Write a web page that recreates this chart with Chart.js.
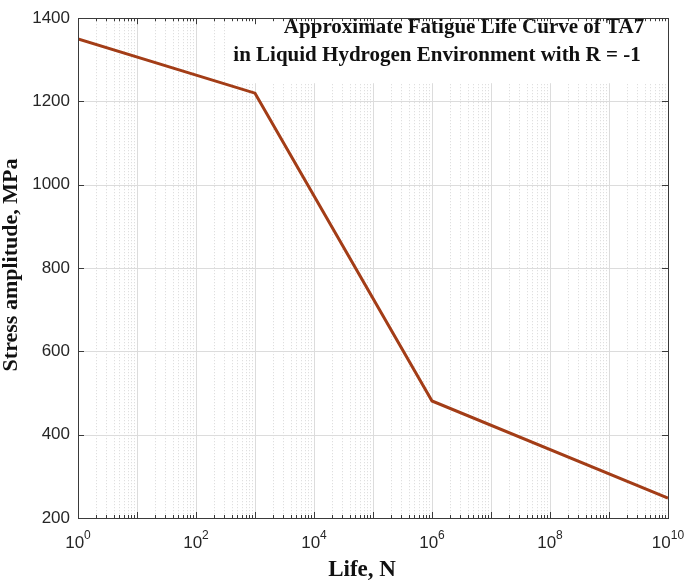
<!DOCTYPE html>
<html>
<head>
<meta charset="utf-8">
<script src="https://cdn.jsdelivr.net/npm/chart.js@4"></script>
<style>
  html, body { margin: 0; padding: 0; background: #fff; }
  #wrap { width: 685px; height: 582px; }
</style>
</head>
<body>
<div id="wrap"><canvas id="c"></canvas></div>
<script>
// S-N curve values
const lifeCycles = [1, 1e3, 1e6, 1e10];
const stressAmp = [1350, 1220, 481, 248];
const yTicks = [200, 400, 600, 800, 1000, 1200, 1400];
const xDecades = [0, 1, 2, 3, 4, 5, 6, 7, 8, 9, 10];
const xLabelExps = [0, 2, 4, 6, 8, 10];
const titleLines = ['Approximate Fatigue Life Curve of TA7', 'in Liquid Hydrogen Environment with R = -1'];
const xTitle = 'Life, N';
const yTitle = 'Stress amplitude, MPa';

const axisColor = '#3a3a3a';
const serifBold = '"Liberation Serif", "Times New Roman", serif';
const sans = '"Liberation Sans", Arial, sans-serif';

// grid, title box, inward ticks and superscript labels (MATLAB-ish look)
const frame = {
  id: 'frame',
  beforeDatasetsDraw(chart) {
    const { ctx, chartArea: a, scales: { x, y } } = chart;
    ctx.save();
    // minor dotted x grid
    ctx.strokeStyle = '#d8d8d8';
    ctx.lineWidth = 1;
    ctx.setLineDash([1, 2]);
    xDecades.slice(0, -1).forEach(d => {
      for (let m = 2; m <= 9; m++) {
        const px = Math.round(x.getPixelForValue(m * Math.pow(10, d))) + 0.5;
        ctx.beginPath(); ctx.moveTo(px, a.top); ctx.lineTo(px, a.bottom); ctx.stroke();
      }
    });
    // major solid grid
    ctx.setLineDash([]);
    ctx.strokeStyle = '#dcdcdc';
    xDecades.forEach(d => {
      const px = Math.round(x.getPixelForValue(Math.pow(10, d))) + 0.5;
      ctx.beginPath(); ctx.moveTo(px, a.top); ctx.lineTo(px, a.bottom); ctx.stroke();
    });
    yTicks.forEach(v => {
      const py = Math.round(y.getPixelForValue(v)) + 0.5;
      ctx.beginPath(); ctx.moveTo(a.left, py); ctx.lineTo(a.right, py); ctx.stroke();
    });
    // white box behind the title text
    ctx.fillStyle = '#fff';
    ctx.fillRect(228, a.top + 1, a.right - 229, 64);
    ctx.fillStyle = '#111';
    ctx.font = 'bold 21px ' + serifBold;
    ctx.textAlign = 'center';
    ctx.textBaseline = 'middle';
    ctx.fillText(titleLines[0], 464, 28);
    ctx.fillText(titleLines[1], 437, 56);
    ctx.restore();
  },
  afterDatasetsDraw(chart) {
    const { ctx, chartArea: a, scales: { x, y } } = chart;
    ctx.save();
    ctx.strokeStyle = axisColor;
    ctx.lineWidth = 1;
    // box
    ctx.strokeRect(Math.round(a.left) + 0.5, Math.round(a.top) + 0.5,
      Math.round(a.right - a.left), Math.round(a.bottom - a.top));
    // x ticks
    xDecades.forEach((d, i) => {
      const px = Math.round(x.getPixelForValue(Math.pow(10, d))) + 0.5;
      ctx.beginPath();
      ctx.moveTo(px, a.bottom); ctx.lineTo(px, a.bottom - 6);
      ctx.moveTo(px, a.top); ctx.lineTo(px, a.top + 6);
      ctx.stroke();
      if (i < xDecades.length - 1) {
        for (let m = 2; m <= 9; m++) {
          const mx = Math.round(x.getPixelForValue(m * Math.pow(10, d))) + 0.5;
          ctx.beginPath();
          ctx.moveTo(mx, a.bottom); ctx.lineTo(mx, a.bottom - 3);
          ctx.moveTo(mx, a.top); ctx.lineTo(mx, a.top + 3);
          ctx.stroke();
        }
      }
    });
    // y ticks
    yTicks.forEach(v => {
      const py = Math.round(y.getPixelForValue(v)) + 0.5;
      ctx.beginPath();
      ctx.moveTo(a.left, py); ctx.lineTo(a.left + 6, py);
      ctx.moveTo(a.right, py); ctx.lineTo(a.right - 6, py);
      ctx.stroke();
    });
    // x labels with superscript exponent
    ctx.fillStyle = '#262626';
    ctx.textBaseline = 'alphabetic';
    ctx.textAlign = 'left';
    xLabelExps.forEach(e => {
      const px = x.getPixelForValue(Math.pow(10, e));
      ctx.font = '17px ' + sans;
      const wBase = ctx.measureText('10').width;
      ctx.font = '12px ' + sans;
      const wExp = ctx.measureText(String(e)).width;
      const x0 = px - (wBase + wExp) / 2;
      ctx.font = '17px ' + sans;
      ctx.fillText('10', x0, 548);
      ctx.font = '12px ' + sans;
      ctx.fillText(String(e), x0 + wBase, 539);
    });
    // axis titles
    ctx.fillStyle = '#111';
    ctx.textAlign = 'center';
    ctx.textBaseline = 'middle';
    ctx.font = 'bold 23px ' + serifBold;
    ctx.fillText(xTitle, 362, 570);
    ctx.translate(11, 265);
    ctx.rotate(-Math.PI / 2);
    ctx.font = 'bold 22px ' + serifBold;
    ctx.fillText(yTitle, 0, 0);
    ctx.restore();
  }
};

new Chart(document.getElementById('c'), {
  type: 'line',
  data: {
    datasets: [{
      data: lifeCycles.map((n, i) => ({ x: n, y: stressAmp[i] })),
      borderColor: '#a33d17',
      borderWidth: 3,
      pointRadius: 0,
      tension: 0,
      fill: false
    }]
  },
  options: {
    responsive: true,
    maintainAspectRatio: false,
    animation: false,
    layout: { padding: { top: 6, right: 17, left: 0, bottom: 0 } },
    plugins: { legend: { display: false }, tooltip: { enabled: false } },
    scales: {
      x: {
        type: 'logarithmic',
        min: 1,
        max: 1e10,
        grid: { display: false, drawTicks: false },
        border: { display: false },
        ticks: { callback: () => '' },
        afterFit: s => { s.height = 64; }
      },
      y: {
        min: 200,
        max: 1400,
        afterBuildTicks: s => { s.ticks = yTicks.map(v => ({ value: v })); },
        grid: { display: false, drawTicks: false },
        border: { display: false },
        ticks: {
          color: '#262626',
          padding: 8,
          callback: v => String(v),
          font: { family: sans, size: 17 }
        },
        afterFit: s => { s.width = 78; }
      }
    }
  },
  plugins: [frame]
});
</script>
</body>
</html>
